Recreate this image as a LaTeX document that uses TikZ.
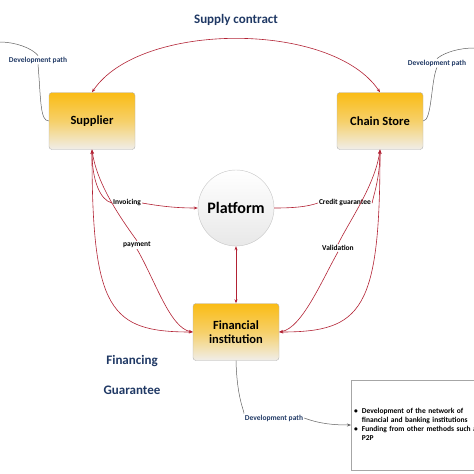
\documentclass[tikz,border=0pt]{standalone}
\usepackage{fontspec}
\setmainfont{Carlito}
\usetikzlibrary{arrows.meta}
\definecolor{flowred}{RGB}{178,34,52}
\definecolor{titleblue}{RGB}{31,56,100}
\definecolor{boxorange}{RGB}{250,188,20}
\definecolor{boxgrey}{RGB}{240,238,234}
\begin{document}
\begin{tikzpicture} [
  x=1pt, y=-1pt,
  >={Stealth[length=4pt,width=3pt]},
  entity/.style={draw=gray!60, rounded corners=3pt, top color=boxorange,
    bottom color=boxgrey, middle color=boxorange!60!boxgrey,
    minimum width=86pt, minimum height=57pt, align=center,
    font=\bfseries\fontsize{12.5}{14.5}\selectfont},
  hub/.style={circle, draw=gray!45, top color=white, bottom color=gray!18,
    minimum size=76pt, font=\bfseries\fontsize{16}{18}\selectfont},
  flow/.style={draw=flowred, line width=0.6pt},
  devline/.style={draw=gray!75!black, line width=0.5pt},
  lab/.style={font=\bfseries\fontsize{7.5}{8}\selectfont, inner sep=1pt},
  devlab/.style={lab, text=titleblue},
  bluetitle/.style={font=\bfseries\fontsize{13}{15}\selectfont, text=titleblue},
  note/.style={draw=gray!70, anchor=west, text width=130pt, minimum height=90pt,
    inner sep=3pt, align=left, font=\bfseries\fontsize{7.5}{9}\selectfont}]
\useasboundingbox (0,0) rectangle (474,474);
\clip (0,0) rectangle (474,474);
\node[bluetitle] (contract) at (236,20) {Supply contract};
\node[entity] (sup) at (92,121) {Supplier};
\node[entity] (cs) at (380,121) {Chain Store};
\node[hub] (plat) at (236,208) {Platform};
\node[entity] (fin) at (236,332) {Financial\\institution};
\node[bluetitle] (fing) at (132,361) {Financing};
\node[bluetitle] (guar) at (132,390) {Guarantee};
\node[lab] (inv) at (127,203) {Invoicing};
\node[lab] (pay) at (137,245) {payment};
\node[lab] (cred) at (345,203) {Credit guarantee};
\node[lab] (val) at (338,248) {Validation};
\node[devlab] (dpl) at (38,60) {Development path};
\node[devlab] (dpr) at (437,63) {Development path};
\node[devlab] (dpb) at (274,418) {Development path};
\coordinate (dpl0) at (0,42);
\coordinate (dpr0) at (474,48);
\node[note] (note) at (351,425) {%
  \begin{tabular}{@{}l@{\hspace{4pt}}l@{}}
  \textbullet & Development of the network of\\
   & financial and banking institutions\\
  \textbullet & Funding from other methods such as\\
   & P2P
  \end{tabular}};

\draw[flow,<->] (sup.north) .. controls (140,21) and (332,21) .. (cs.north);
\draw[flow,<-] (sup.south) .. controls (92,180) and (100,200) .. (inv.west);
\draw[flow,->] (inv.east) .. controls (165,207) and (180,208) .. (plat.west);
\draw[flow,<-] (sup.south) .. controls (97,185) and (122,220) .. (pay.north);
\draw[flow,->] (pay.south) .. controls (155,280) and (170,328) .. (fin.west);
\draw[flow,<->] (sup.south) .. controls (92,310) and (110,332) .. (fin.west);
\draw[flow,<-] (cs.south) .. controls (380,180) and (372,200) .. (cred.east);
\draw[flow] (cred.west) .. controls (307,207) and (292,208) .. (plat.east);
\draw[flow,<-] (cs.south) .. controls (375,185) and (350,220) .. (val.north);
\draw[flow,->] (val.south) .. controls (322,280) and (302,328) .. (fin.east);
\draw[flow,<->] (cs.south) .. controls (380,310) and (362,332) .. (fin.east);
\draw[flow,<->] (plat.south) -- (fin.north);

\draw[devline] (sup.west) .. controls (40,121) and (41,100) .. (dpl.south);
\draw[devline] (dpl.north) .. controls (32,48) and (15,42) .. (dpl0);
\draw[devline] (cs.east) .. controls (432,121) and (431,80) .. (dpr.south);
\draw[devline] (dpr.north) .. controls (445,52) and (460,48) .. (dpr0);
\draw[devline] (fin.south) .. controls (237,400) and (245,412) .. (dpb.north west);
\draw[devline,->] (dpb.east) .. controls (320,424) and (335,425) .. (note.west);
\end{tikzpicture}
\end{document}
